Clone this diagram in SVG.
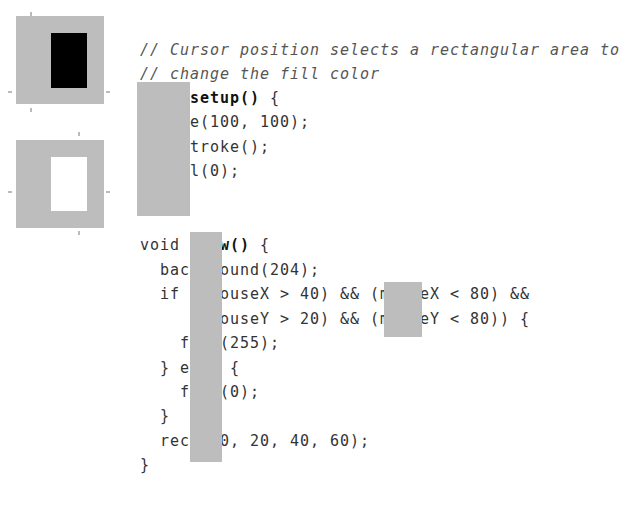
<svg xmlns="http://www.w3.org/2000/svg" width="640" height="514" viewBox="0 0 640 514">
<style>
.c{font-family:"DejaVu Sans Mono",monospace;font-size:15px;letter-spacing:0.97px;fill:#333;white-space:pre}
.cm{font-style:italic;fill:#555}
.b{font-weight:bold;fill:#111}
.g{fill:#bdbdbd}
.t{stroke:#777;stroke-width:1}
</style>
<rect width="640" height="514" fill="#fff"/>
<g id="panel1">
<rect class="g" x="16" y="16" width="88" height="88"/>
<rect x="51" y="33" width="36" height="55" fill="#000"/>
<path class="t" d="M31 12v4M31 108v4M8 92h4M106 92h4"/>
</g>
<g id="panel2">
<rect class="g" x="16" y="140" width="88" height="88"/>
<rect x="51" y="157" width="36" height="54" fill="#fff"/>
<path class="t" d="M79 132v4M79 231v4M8 192h4M106 192h4"/>
</g>
<g id="code">
<text class="c cm" x="140" y="55">// Cursor position selects a rectangular area to</text>
<text class="c cm" x="140" y="79">// change the fill color</text>
<text class="c" x="140" y="103">void <tspan class="b">setup()</tspan> {</text>
<text class="c" x="140" y="127">  size(100, 100);</text>
<text class="c" x="140" y="152">  noStroke();</text>
<text class="c" x="140" y="176">  fill(0);</text>
<text class="c" x="140" y="250">void <tspan class="b">draw()</tspan> {</text>
<text class="c" x="140" y="275">  background(204);</text>
<text class="c" x="140" y="299">  if ((mouseX &gt; 40) &amp;&amp; (mouseX &lt; 80) &amp;&amp;</text>
<text class="c" x="140" y="324">      (mouseY &gt; 20) &amp;&amp; (mouseY &lt; 80)) {</text>
<text class="c" x="140" y="348">    fill(255);</text>
<text class="c" x="140" y="373">  } else {</text>
<text class="c" x="140" y="397">    fill(0);</text>
<text class="c" x="140" y="421">  }</text>
<text class="c" x="140" y="446">  rect(40, 20, 40, 60);</text>
<text class="c" x="140" y="470">}</text>
</g>
<g id="masks">
<rect class="g" x="137" y="82" width="53" height="134"/>
<rect class="g" x="190" y="232" width="32" height="230"/>
<rect class="g" x="384" y="282" width="38" height="55"/>
</g>
</svg>
